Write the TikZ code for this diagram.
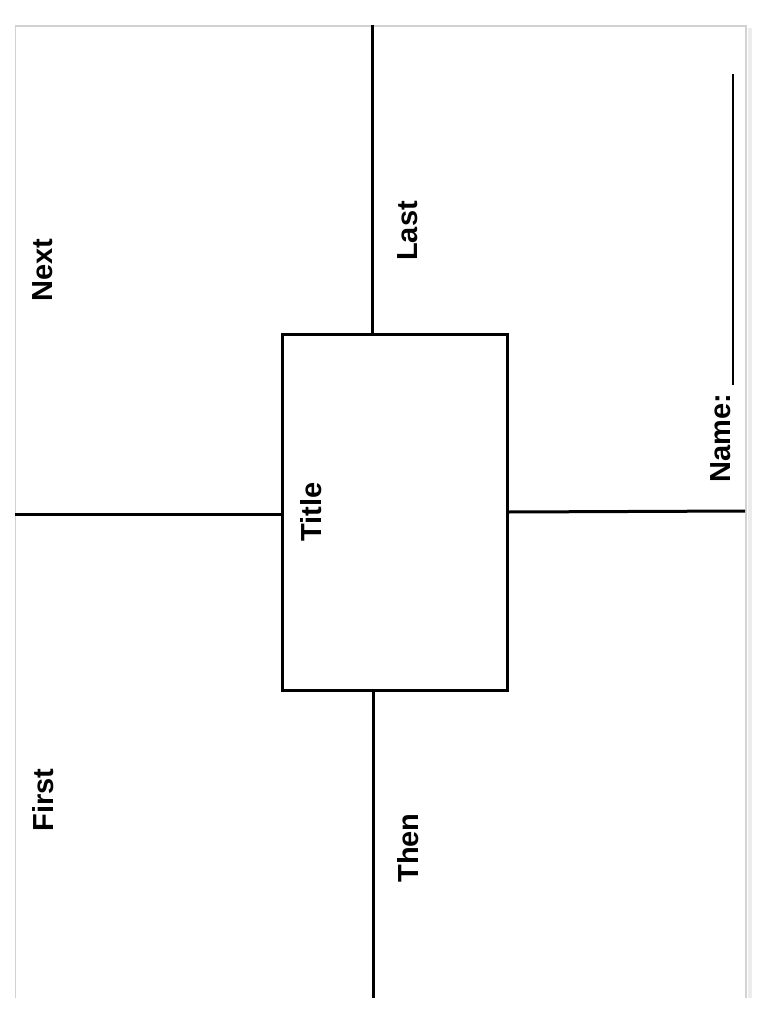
\documentclass[tikz,border=0pt]{standalone}
\usepackage{fontspec}
\setmainfont{Liberation Sans}
\usepackage{tikz}
\usetikzlibrary{calc,positioning}
\tikzset{
  lbl/.style={font=\fontsize{29}{31}\selectfont\bfseries, rotate=90, inner sep=0pt},
  rule/.style={line width=3pt, black},
  page/.style={line width=1.5pt, gray!35}
}

\begin{document}
\begin{tikzpicture}[x=1pt,y=-1pt]
    \useasboundingbox (0,0) rectangle (768,1024);
    % page edges
    \coordinate (ptl) at (15.5,26);
    \coordinate (ptr) at (746,26);
    \coordinate (pbl) at (15.5,998);
    \coordinate (pbr) at (746,998);
    \draw[page] (pbl) -- (ptl) -- (ptr) -- (pbr);
    \draw[line width=4pt, gray!15] ($(ptr)+(4,2)$) -- ($(pbr)+(4,0)$);
    % title box
    \node[draw, rule, minimum width=225pt, minimum height=356pt, inner sep=0pt] (box) at (394.5,512) {};
    \node[lbl] (title) at (311,512) {Title};
    % ends of the rules
    \coordinate (top) at (372,25);
    \coordinate (bot) at (373,998);
    \coordinate (left) at (15,514);
    \coordinate (right) at (745,511);
    % vertical lines
    \draw[rule] (top) -- (top |- box.north);
    \draw[rule] (bot |- box.south) -- (bot);
    % horizontal lines
    \draw[rule] (left) -- (left -| box.west);
    \draw[rule] (box.east |- 0,512) -- (right);
    % labels
    \node[lbl] (next) at (43,270) {Next};
    \node[lbl] (first) at (43,800) {First};
    \node[lbl] (last) at (408,231) {Last};
    \node[lbl] (then) at (408,848) {Then};
    \node[lbl, anchor=base west] (name) at (730,483) {Name:};
    % name line
    \coordinate (nameend) at (733,74);
    \draw[line width=2pt] (733,385) -- (nameend);
\end{tikzpicture}
\end{document}
